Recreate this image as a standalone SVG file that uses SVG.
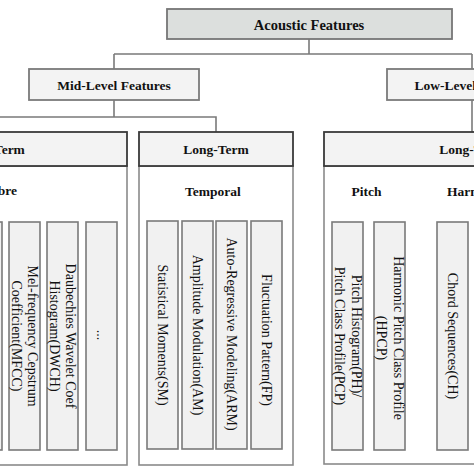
<svg xmlns="http://www.w3.org/2000/svg" width="474" height="474" viewBox="0 0 474 474">
<style>
.bg{fill:#ffffff}
.top{fill:#dcdfdd;stroke:#767676;stroke-width:1.8}
.lvl{fill:#f3f3f3;stroke:#7a7a7a;stroke-width:1.8}
.hdr{fill:#f3f3f3;stroke:#3a3a3a;stroke-width:1.8}
.cont{fill:#ffffff;stroke:#8a8a8a;stroke-width:1.6}
.leaf{fill:#f1f1f1;stroke:#7a7a7a;stroke-width:1.6}
.ln{fill:none;stroke:#7a7a7a;stroke-width:1.6}
.b{font-family:"Liberation Serif","Times New Roman",serif;font-weight:bold;fill:#111;text-anchor:middle;dominant-baseline:central}
.r{font-family:"Liberation Serif","Times New Roman",serif;font-size:14px;fill:#111;text-anchor:middle;dominant-baseline:central}
</style>
<rect class="bg" x="0" y="0" width="474" height="474"/>

<g id="connectors">
<path class="ln" d="M309,39 V54 M114,54 H472 M114,54 V69 M472,54 V69"/>
<path class="ln" d="M114,100 V117 M-20,117 H216 V132"/>
<path class="ln" d="M472,100 V132"/>
<path class="ln" d="M-13.5,221 V207 H101.5 V221"/>
<path class="ln" d="M162.5,221 V209 H266.5 V221"/>
<path class="ln" d="M347.5,222 V210 H389.5 V222"/>
<path class="ln" d="M452.5,222 V210 H520"/>
</g>

<g id="acoustic">
<rect class="top" x="167" y="9" width="285" height="30"/>
<text class="b" x="309" y="24.5" font-size="14.5">Acoustic Features</text>
</g>

<g id="mid-level">
<rect class="lvl" x="29" y="69" width="170" height="31"/>
<text class="b" x="114" y="85" font-size="13.5">Mid-Level Features</text>
</g>

<g id="low-level">
<rect class="lvl" x="387" y="69" width="170" height="31"/>
<text class="b" x="472" y="85" font-size="13.5">Low-Level Features</text>
</g>

<g id="mid-short-term">
<rect class="cont" x="-145" y="166" width="272" height="299"/>
<rect class="hdr" x="-145" y="132" width="272" height="34"/>
<text class="b" x="-9" y="149.5" font-size="13.5">Short-Term</text>
<text class="b" x="17" y="190" font-size="13.5" style="text-anchor:end">Timbre</text>
</g>

<g id="mid-long-term">
<rect class="cont" x="139" y="166" width="154" height="299"/>
<rect class="hdr" x="139" y="132" width="154" height="34"/>
<text class="b" x="216" y="149.5" font-size="13.5">Long-Term</text>
<text class="b" x="213" y="191.5" font-size="13.5">Temporal</text>
</g>

<g id="low-long-term">
<rect class="cont" x="324" y="166" width="300" height="298"/>
<rect class="hdr" x="324" y="132" width="300" height="34"/>
<text class="b" x="472" y="149.5" font-size="13.5">Long-Term</text>
<text class="b" x="366.5" y="191" font-size="13.5">Pitch</text>
<text class="b" x="447" y="191" font-size="13.5" style="text-anchor:start">Harmony</text>
</g>

<g id="leaf-timbre-0"><rect class="leaf" x="-29" y="222" width="31" height="228"/></g>
<g id="leaf-mfcc">
<rect class="leaf" x="9" y="222" width="31" height="228"/>
<g transform="translate(24.5,336) rotate(90)"><text class="r" x="0" y="-8">Mel-frequency Cepstrum</text><text class="r" x="0" y="8.5">Coefficient(MFCC)</text></g>
</g>
<g id="leaf-dwch">
<rect class="leaf" x="47" y="222" width="31" height="228"/>
<g transform="translate(62.5,336) rotate(90)"><text class="r" x="0" y="-8">Daubechies Wavelet Coef</text><text class="r" x="0" y="8.5">Histogram(DWCH)</text></g>
</g>
<g id="leaf-more">
<rect class="leaf" x="86" y="222" width="31" height="228"/>
<g transform="translate(101.5,335) rotate(90)"><text class="r" x="0" y="0">...</text></g>
</g>

<g id="leaf-sm">
<rect class="leaf" x="147" y="221" width="31" height="228"/>
<g transform="translate(162.5,335) rotate(90)"><text class="r" x="0" y="0">Statistical Moments(SM)</text></g>
</g>
<g id="leaf-am">
<rect class="leaf" x="182" y="221" width="31" height="228"/>
<g transform="translate(197.5,335) rotate(90)"><text class="r" x="0" y="0">Amplitude Modulation(AM)</text></g>
</g>
<g id="leaf-arm">
<rect class="leaf" x="216" y="221" width="31" height="228"/>
<g transform="translate(231.5,334) rotate(90)"><text class="r" x="0" y="0">Auto-Regressive Modeling(ARM)</text></g>
</g>
<g id="leaf-fp">
<rect class="leaf" x="251" y="221" width="31" height="228"/>
<g transform="translate(266.5,340) rotate(90)"><text class="r" x="0" y="0">Fluctuation Pattern(FP)</text></g>
</g>

<g id="leaf-ph-pcp">
<rect class="leaf" x="332" y="222" width="31" height="228"/>
<g transform="translate(347.5,336) rotate(90)"><text class="r" x="0" y="-8.5">Pitch Histogram(PH)/</text><text class="r" x="0" y="8.5">Pitch Class Profile(PCP)</text></g>
</g>
<g id="leaf-hpcp">
<rect class="leaf" x="374" y="222" width="31" height="228"/>
<g transform="translate(389.5,338) rotate(90)"><text class="r" x="0" y="-8.5">Harmonic Pitch Class Profile</text><text class="r" x="0" y="8.5">(HPCP)</text></g>
</g>
<g id="leaf-ch">
<rect class="leaf" x="437" y="222" width="31" height="228"/>
<g transform="translate(452.5,336) rotate(90)"><text class="r" x="0" y="0">Chord Sequences(CH)</text></g>
</g>
</svg>
